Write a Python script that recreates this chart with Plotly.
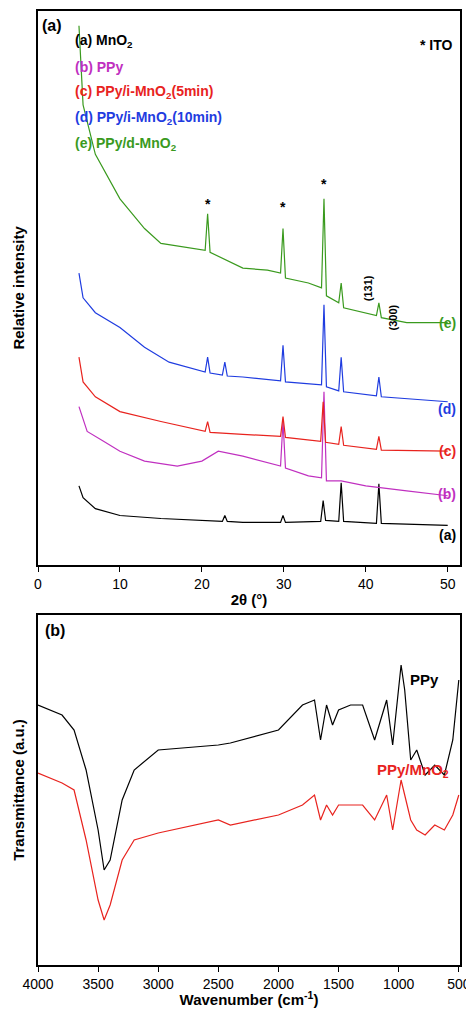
import plotly.graph_objects as go

# page body adds an 8px margin, so the figure is drawn 8px in from the window edge
OFF = 8
W, H = 466, 1000
L, R, T, B = 38 - OFF, 14, 0, 43

# ---- panel (a): XRD, offsets in relative intensity units ----
two_theta_a = [5, 5.5, 7, 10, 15, 20, 22.5, 22.8, 23.1, 25, 29.6, 29.9, 30.2, 34.5, 34.8, 35.1, 36.7, 37, 37.3,
               41.3, 41.6, 41.9, 50]
mno2 = [80, 68, 57, 50, 47, 45, 44, 50, 44, 43, 43, 50, 43, 44, 65, 45, 44, 83, 44, 42, 82, 42, 40]

two_theta_b = [5, 6, 8, 10, 13, 17, 20, 22, 25, 28, 29.6, 29.9, 30.2, 33, 34.6, 34.9, 35.2, 37, 40, 45, 50]
ppy = [160, 135, 125, 115, 105, 100, 105, 115, 110, 103, 100, 145, 98, 90, 88, 175, 85, 85, 80, 75, 70]

two_theta_c = [5, 5.5, 7, 10, 15, 20.4, 20.7, 21.0, 25, 29.6, 29.9, 30.2, 34.5, 34.8, 35.1, 36.7, 37, 37.3,
               41.3, 41.6, 41.9, 50]
ppy_i5 = [210, 185, 170, 155, 145, 135, 145, 134, 132, 130, 150, 129, 125, 165, 124, 122, 140, 121, 117, 130, 116, 115]

two_theta_d = [5, 5.5, 7, 10, 13, 16, 20.4, 20.7, 21.0, 22.5, 22.8, 23.1, 25, 29.6, 29.9, 30.2, 34.6, 34.9, 35.2,
               36.7, 37, 37.3, 41.3, 41.6, 41.9, 50]
ppy_i10 = [295, 270, 255, 240, 220, 205, 195, 210, 194, 192, 205, 191, 190, 186, 222, 185, 182, 263, 180,
           176, 210, 175, 171, 190, 170, 165]

two_theta_e = [5, 5.5, 7, 10, 13, 15, 20.4, 20.7, 21.0, 25, 28, 29.6, 29.9, 30.2, 33, 34.6, 34.9, 35.2,
               36.7, 37, 37.3, 40, 41.3, 41.6, 41.9, 45, 50]
ppy_d = [545, 465, 415, 370, 340, 325, 318, 355, 316, 300, 298, 295, 340, 290, 285, 280, 370, 272,
         265, 285, 260, 255, 252, 265, 250, 245, 245]

# ---- panel (b): FTIR ----
wavenumber = [4000, 3800, 3700, 3600, 3500, 3450, 3400, 3300, 3200, 3000, 2500, 2400, 2000, 1800, 1700,
              1650, 1600, 1550, 1500, 1400, 1300, 1200, 1150, 1100, 1050, 1000, 980, 950, 900, 850, 780, 700, 620, 550, 500]
ppy_ir = [260, 250, 235, 195, 135, 95, 105, 165, 195, 215, 220, 222, 235, 260, 265,
          225, 260, 240, 255, 260, 260, 225, 245, 265, 220, 275, 300, 275, 205, 215, 190, 200, 190, 225, 285]
ppy_mno2_ir = [192, 182, 175, 125, 65, 45, 60, 105, 125, 132, 145, 140, 150, 160, 170,
               145, 160, 150, 160, 160, 160, 145, 158, 170, 135, 170, 185, 170, 145, 135, 130, 140, 135, 150, 170]

GREEN, BLUE, RED, MAG = "#3a9a1e", "#1f3ce0", "#e8231e", "#c030c0"
FONT = "Liberation Sans, Arial, sans-serif"

fig = go.Figure()
for xs, ys, c in [(two_theta_a, mno2, "black"), (two_theta_b, ppy, MAG), (two_theta_c, ppy_i5, RED),
                  (two_theta_d, ppy_i10, BLUE), (two_theta_e, ppy_d, GREEN)]:
    fig.add_trace(go.Scatter(x=xs, y=ys, mode="lines", line=dict(color=c, width=1.2),
                             xaxis="x", yaxis="y", showlegend=False))
for ys, c in [(ppy_ir, "black"), (ppy_mno2_ir, RED)]:
    fig.add_trace(go.Scatter(x=wavenumber, y=ys, mode="lines", line=dict(color=c, width=1.2),
                             xaxis="x2", yaxis="y2", showlegend=False))

PW, PH = W - L - R, H - T - B
# reference-pixel -> paper coordinates
def px(x): return (x - OFF - L) / PW
def py(y): return 1 - (y - OFF - T) / PH

TF = dict(size=15, family=FONT, color="black")
ax = dict(showline=True, mirror=True, linecolor="black", linewidth=1.5, showgrid=False, zeroline=False,
          automargin=False, ticks="outside", tickcolor="black",
          tickfont=dict(size=14, family=FONT, color="black"))
fig.update_layout(
    width=W, height=H, margin=dict(l=L, r=R, t=T, b=B),
    plot_bgcolor="white", paper_bgcolor="white",
    xaxis=dict(ax, domain=[0, 1], range=[0, 51.5], dtick=10, anchor="y",
               title=dict(text="<b>2θ (°)</b>", font=TF, standoff=4)),
    yaxis=dict(ax, domain=[py(565), 0.997], range=[0, 560], showticklabels=False, ticks="",
               anchor="x", title=dict(text="<b>Relative intensity</b>", font=TF, standoff=8)),
    xaxis2=dict(ax, domain=[0, 1], range=[4000, 490], dtick=500, anchor="y2",
                title=dict(text="<b>Wavenumber (cm<sup>-1</sup>)</b>", font=TF, standoff=4)),
    yaxis2=dict(ax, domain=[0, py(615)], range=[0, 350], showticklabels=False, ticks="",
                anchor="x2", title=dict(text="<b>Transmittance (a.u.)</b>", font=TF, standoff=8)),
)

ann = []
def txt(t, x, y, c="black", xref="paper", yref="paper", size=14, angle=0, xanchor="left"):
    ann.append(dict(text=t, x=x, y=y, xref=xref, yref=yref, showarrow=False, textangle=angle,
                    font=dict(size=size, family=FONT, color=c), xanchor=xanchor))

txt("<b>(a)</b>", px(40), py(15), size=16)
txt("<b>(a) MnO<sub>2</sub></b>", px(73), py(30))
txt("<b>(b) PPy</b>", px(73), py(57), MAG)
txt("<b>(c) PPy/i-MnO<sub>2</sub>(5min)</b>", px(73), py(81), RED)
txt("<b>(d) PPy/i-MnO<sub>2</sub>(10min)</b>", px(73), py(107), BLUE)
txt("<b>(e) PPy/d-MnO<sub>2</sub></b>", px(73), py(133), GREEN)
txt("<b>* ITO</b>", px(418), py(35))
for xs, ys in [(20.7, 365), (29.9, 362), (34.9, 385)]:
    txt("<b>*</b>", xs, ys, xref="x", yref="y", xanchor="center")
txt("<b>(131)</b>", 40.3, 280, xref="x", yref="y", size=11, angle=-90, xanchor="center")
txt("<b>(300)</b>", 43.3, 250, xref="x", yref="y", size=11, angle=-90, xanchor="center")
for lab, y, c in [("(e)", 245, GREEN), ("(d)", 158, BLUE), ("(c)", 115, RED), ("(b)", 72, MAG), ("(a)", 30, "black")]:
    txt("<b>" + lab + "</b>", 0.995, y, c, yref="y", xanchor="right")
txt("<b>(b)</b>", px(43), py(630), size=16)
txt("<b>PPy</b>", px(408), py(690), size=15)
txt("<b>PPy/MnO<sub>2</sub></b>", px(375), py(782), RED, size=15)
fig.update_layout(annotations=ann)

fig.write_html("out.html")
